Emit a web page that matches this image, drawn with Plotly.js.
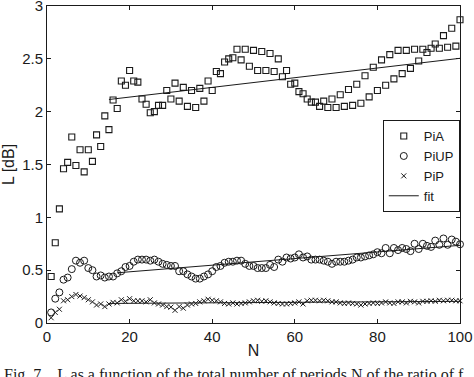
<!DOCTYPE html>
<html>
<head>
<meta charset="utf-8">
<script src="https://cdn.plot.ly/plotly-3.0.1.min.js"></script>
<style>
  html, body { margin: 0; padding: 0; background: #fff; }
  #chart { width: 474px; height: 377px; }
</style>
</head>
<body>
<div id="chart"></div>
<script>
// Number of periods
const N = Array.from({length: 100}, (_, i) => i + 1);

// PiA (squares)
const piA = [
  0.44, 0.76, 1.08, 1.46, 1.52, 1.76, 1.49, 1.64, 1.43, 1.64,
  1.53, 1.78, 1.67, 1.96, 1.83, 2.11, 2.03, 2.29, 2.25, 2.39,
  2.29, 2.28, 2.12, 2.07, 1.99, 2.00, 2.06, 2.06, 2.20, 2.12,
  2.27, 2.10, 2.23, 2.05, 2.20, 2.04, 2.22, 2.10, 2.29, 2.20,
  2.38, 2.36, 2.47, 2.50, 2.51, 2.59, 2.49, 2.59, 2.43, 2.58,
  2.39, 2.57, 2.39, 2.55, 2.38, 2.50, 2.33, 2.39, 2.26, 2.27,
  2.19, 2.17, 2.12, 2.09, 2.09, 2.05, 2.10, 2.04, 2.12, 2.04,
  2.16, 2.05, 2.21, 2.06, 2.26, 2.08, 2.34, 2.14, 2.42, 2.20,
  2.49, 2.25, 2.54, 2.31, 2.58, 2.36, 2.58, 2.41, 2.59, 2.48,
  2.59, 2.56, 2.60, 2.64, 2.60, 2.72, 2.61, 2.79, 2.62, 2.87
];

// PiUP (circles)
const piUP = [
  0.10, 0.23, 0.29, 0.41, 0.43, 0.51, 0.59, 0.57, 0.59, 0.52,
  0.50, 0.44, 0.45, 0.43, 0.44, 0.44, 0.47, 0.49, 0.53, 0.54,
  0.58, 0.60, 0.60, 0.60, 0.59, 0.60, 0.58, 0.56, 0.55, 0.54,
  0.54, 0.49, 0.49, 0.46, 0.44, 0.42, 0.42, 0.44, 0.46, 0.49,
  0.53, 0.54, 0.57, 0.58, 0.58, 0.59, 0.59, 0.56, 0.54, 0.54,
  0.52, 0.52, 0.52, 0.55, 0.53, 0.60, 0.58, 0.62, 0.61, 0.62,
  0.65, 0.62, 0.63, 0.60, 0.60, 0.60, 0.59, 0.58, 0.56, 0.58,
  0.58, 0.58, 0.59, 0.60, 0.62, 0.62, 0.63, 0.64, 0.65, 0.67,
  0.66, 0.71, 0.66, 0.71, 0.69, 0.71, 0.70, 0.68, 0.75, 0.70,
  0.75, 0.73, 0.72, 0.78, 0.74, 0.80, 0.74, 0.79, 0.77, 0.745
];

// PiP (crosses)
const piP = [
  0.05, 0.10, 0.13, 0.21, 0.22, 0.25, 0.27, 0.255, 0.24, 0.22,
  0.20, 0.17, 0.18, 0.155, 0.18, 0.195, 0.19, 0.22, 0.205, 0.23,
  0.21, 0.21, 0.21, 0.20, 0.22, 0.19, 0.18, 0.17, 0.155, 0.15,
  0.12, 0.155, 0.14, 0.17, 0.18, 0.185, 0.20, 0.21, 0.225, 0.215,
  0.21, 0.20, 0.185, 0.18, 0.19, 0.18, 0.185, 0.19, 0.20, 0.21,
  0.215, 0.205, 0.21, 0.20, 0.19, 0.185, 0.18, 0.18, 0.185, 0.19,
  0.20, 0.18, 0.21, 0.215, 0.215, 0.21, 0.215, 0.21, 0.20, 0.20,
  0.19, 0.185, 0.19, 0.185, 0.18, 0.17, 0.18, 0.185, 0.19, 0.185,
  0.19, 0.20, 0.19, 0.185, 0.20, 0.20, 0.19, 0.205, 0.20, 0.19,
  0.205, 0.205, 0.21, 0.205, 0.215, 0.21, 0.215, 0.215, 0.21, 0.21
];

// Linear fits (end points)
const fitAx = [15, 100],  fitA  = [2.115, 2.505];
const fitUPx = [17, 100], fitUP = [0.475, 0.735];
const fitPx = [15, 100],  fitP  = [0.185, 0.205];

const xTicks = [0, 20, 40, 60, 80, 100];
const yTicks = [0, 0.5, 1, 1.5, 2, 2.5, 3];
const yTickText = ['0', '0.5', '1', '1.5', '2', '2.5', '3'];

const ink = '#1a1a1a';
const sans = 'Liberation Sans, Arial, sans-serif';
const fitLine = {color: ink, width: 1};

const traces = [
  {x: N, y: piA, name: 'PiA', type: 'scatter', mode: 'markers', cliponaxis: false,
   marker: {symbol: 'square-open', size: 6, color: ink, line: {width: 1.1, color: ink}}},
  {x: N, y: piUP, name: 'PiUP', type: 'scatter', mode: 'markers', cliponaxis: false,
   marker: {symbol: 'circle-open', size: 7, color: ink, line: {width: 1, color: ink}}},
  {x: N, y: piP, name: 'PiP', type: 'scatter', mode: 'markers', cliponaxis: false,
   marker: {symbol: 'x-thin-open', size: 5, color: ink, line: {width: 1, color: ink}}},
  {x: fitAx, y: fitA, name: 'fit', type: 'scatter', mode: 'lines', line: fitLine},
  {x: fitUPx, y: fitUP, name: 'fit', type: 'scatter', mode: 'lines', line: fitLine, showlegend: false},
  {x: fitPx, y: fitP, name: 'fit', type: 'scatter', mode: 'lines', line: fitLine, showlegend: false}
];

const axisCommon = {
  showline: true, linecolor: ink, linewidth: 1, mirror: 'ticks',
  ticks: 'inside', ticklen: 4, tickcolor: ink, tickwidth: 1,
  showgrid: false, zeroline: false, ticklabeloverflow: 'allow',
  tickfont: {family: sans, size: 15, color: ink}
};

const layout = {
  width: 474, height: 377,
  margin: {l: 47, r: 14, t: 6, b: 54},
  paper_bgcolor: '#fff', plot_bgcolor: '#fff',
  font: {family: sans, color: ink},
  xaxis: Object.assign({}, axisCommon, {
    range: [0, 100], tickvals: xTicks, ticktext: xTicks.map(String),
    title: {text: 'N', font: {size: 16, family: sans, color: ink}, standoff: 0}
  }),
  yaxis: Object.assign({}, axisCommon, {
    range: [0, 3], tickvals: yTicks, ticktext: yTickText,
    title: {text: 'L [dB]', font: {size: 16, family: sans, color: ink}, standoff: 4}
  }),
  showlegend: true,
  legend: {
    x: 0.813, y: 0.64, xanchor: 'left', yanchor: 'top',
    bgcolor: '#fff', bordercolor: ink, borderwidth: 1,
    font: {size: 13, family: sans, color: ink},
    tracegroupgap: 0, itemwidth: 30
  },
  annotations: [{
    xref: 'paper', yref: 'paper', x: -0.108, y: -0.13,
    xanchor: 'left', yanchor: 'top', showarrow: false, align: 'left',
    text: 'Fig. 7.   L as a function of the total number of periods N of the ratio of f',
    font: {family: 'Liberation Serif, Times New Roman, serif', size: 16, color: ink}
  }]
};

Plotly.newPlot('chart', traces, layout, {staticPlot: true, displayModeBar: false});
</script>
</body>
</html>
